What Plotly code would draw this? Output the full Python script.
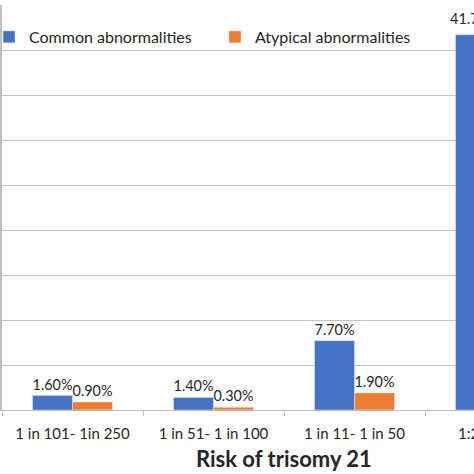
import plotly.graph_objs as go

# Risk of trisomy 21 groups (the last one is cut off at the right edge)
categories = ['1 in 101- 1in 250', '1 in 51- 1 in 100', '1 in 11- 1 in 50', '1:2- 1 in 10']
common = [1.6, 1.4, 7.7, 41.7]
atypical = [0.9, 0.3, 1.9, 9.4]

font = 'Lato, Open Sans, sans-serif'
label_font = dict(size=14.5, color='#262626')

common_text = ['%.2f%%' % v for v in common]
atypical_text = ['%.2f%%' % v for v in atypical]

# the last group sits on the cropped edge, its bar text is added as an annotation below
trace1 = go.Bar(x=categories, y=common, name='Common abnormalities',
                marker=dict(color='#4472C4'),
                text=common_text[:3] + [''], textposition='outside',
                textfont=label_font, cliponaxis=False)

trace2 = go.Bar(x=categories, y=atypical, name='Atypical abnormalities',
                marker=dict(color='#ED7D31'),
                text=atypical_text, textposition='outside',
                textfont=label_font, cliponaxis=False)

layout = go.Layout(width=474, height=474,
                   margin=dict(l=2, r=0, t=5, b=64),
                   paper_bgcolor='white', plot_bgcolor='white',
                   font=dict(family=font, size=14, color='#262626'),
                   barmode='group', bargap=0.433, bargroupgap=0,
                   showlegend=True,
                   legend=dict(orientation='h', x=0, y=0.963, xanchor='left', yanchor='top',
                               indentation=-13,
                               entrywidth=194, entrywidthmode='pixels',
                               font=dict(size=16), bgcolor='rgba(0,0,0,0)'),
                   xaxis=dict(range=[-0.5, 2.8475], showgrid=False,
                              ticks='outside', tickson='boundaries', ticklen=5,
                              tickcolor='#bfbfbf', showline=True, linecolor='#bfbfbf',
                              tickfont=dict(size=15), ticklabelstandoff=10),
                   yaxis=dict(range=[0, 45], dtick=5, showticklabels=False,
                              showgrid=True, gridcolor='#c4c4c4', gridwidth=1,
                              showline=True, linecolor='#bfbfbf', linewidth=2,
                              zeroline=False),
                   annotations=[dict(text='<b>Risk of trisomy 21</b>', xref='paper', yref='paper',
                                     x=0.597, y=-0.12, xanchor='center', yanchor='middle',
                                     showarrow=False, font=dict(size=22, color='#262626')),
                                dict(text=categories[3], xref='paper', yref='paper',
                                     x=1.047, y=-0.057, xanchor='center', yanchor='middle',
                                     showarrow=False, font=dict(size=15, color='#262626')),
                                dict(text=common_text[3], xref='paper', yref='y',
                                     x=1.0, y=common[3], xanchor='center', yanchor='bottom',
                                     yshift=6, showarrow=False, font=label_font)])

fig = go.Figure(data=[trace1, trace2], layout=layout)
# the page is photographed at 474x474, so drop the default body margin
fig.write_html('out.html', config={'displayModeBar': False},
               post_script="document.body.style.margin='0px';")
